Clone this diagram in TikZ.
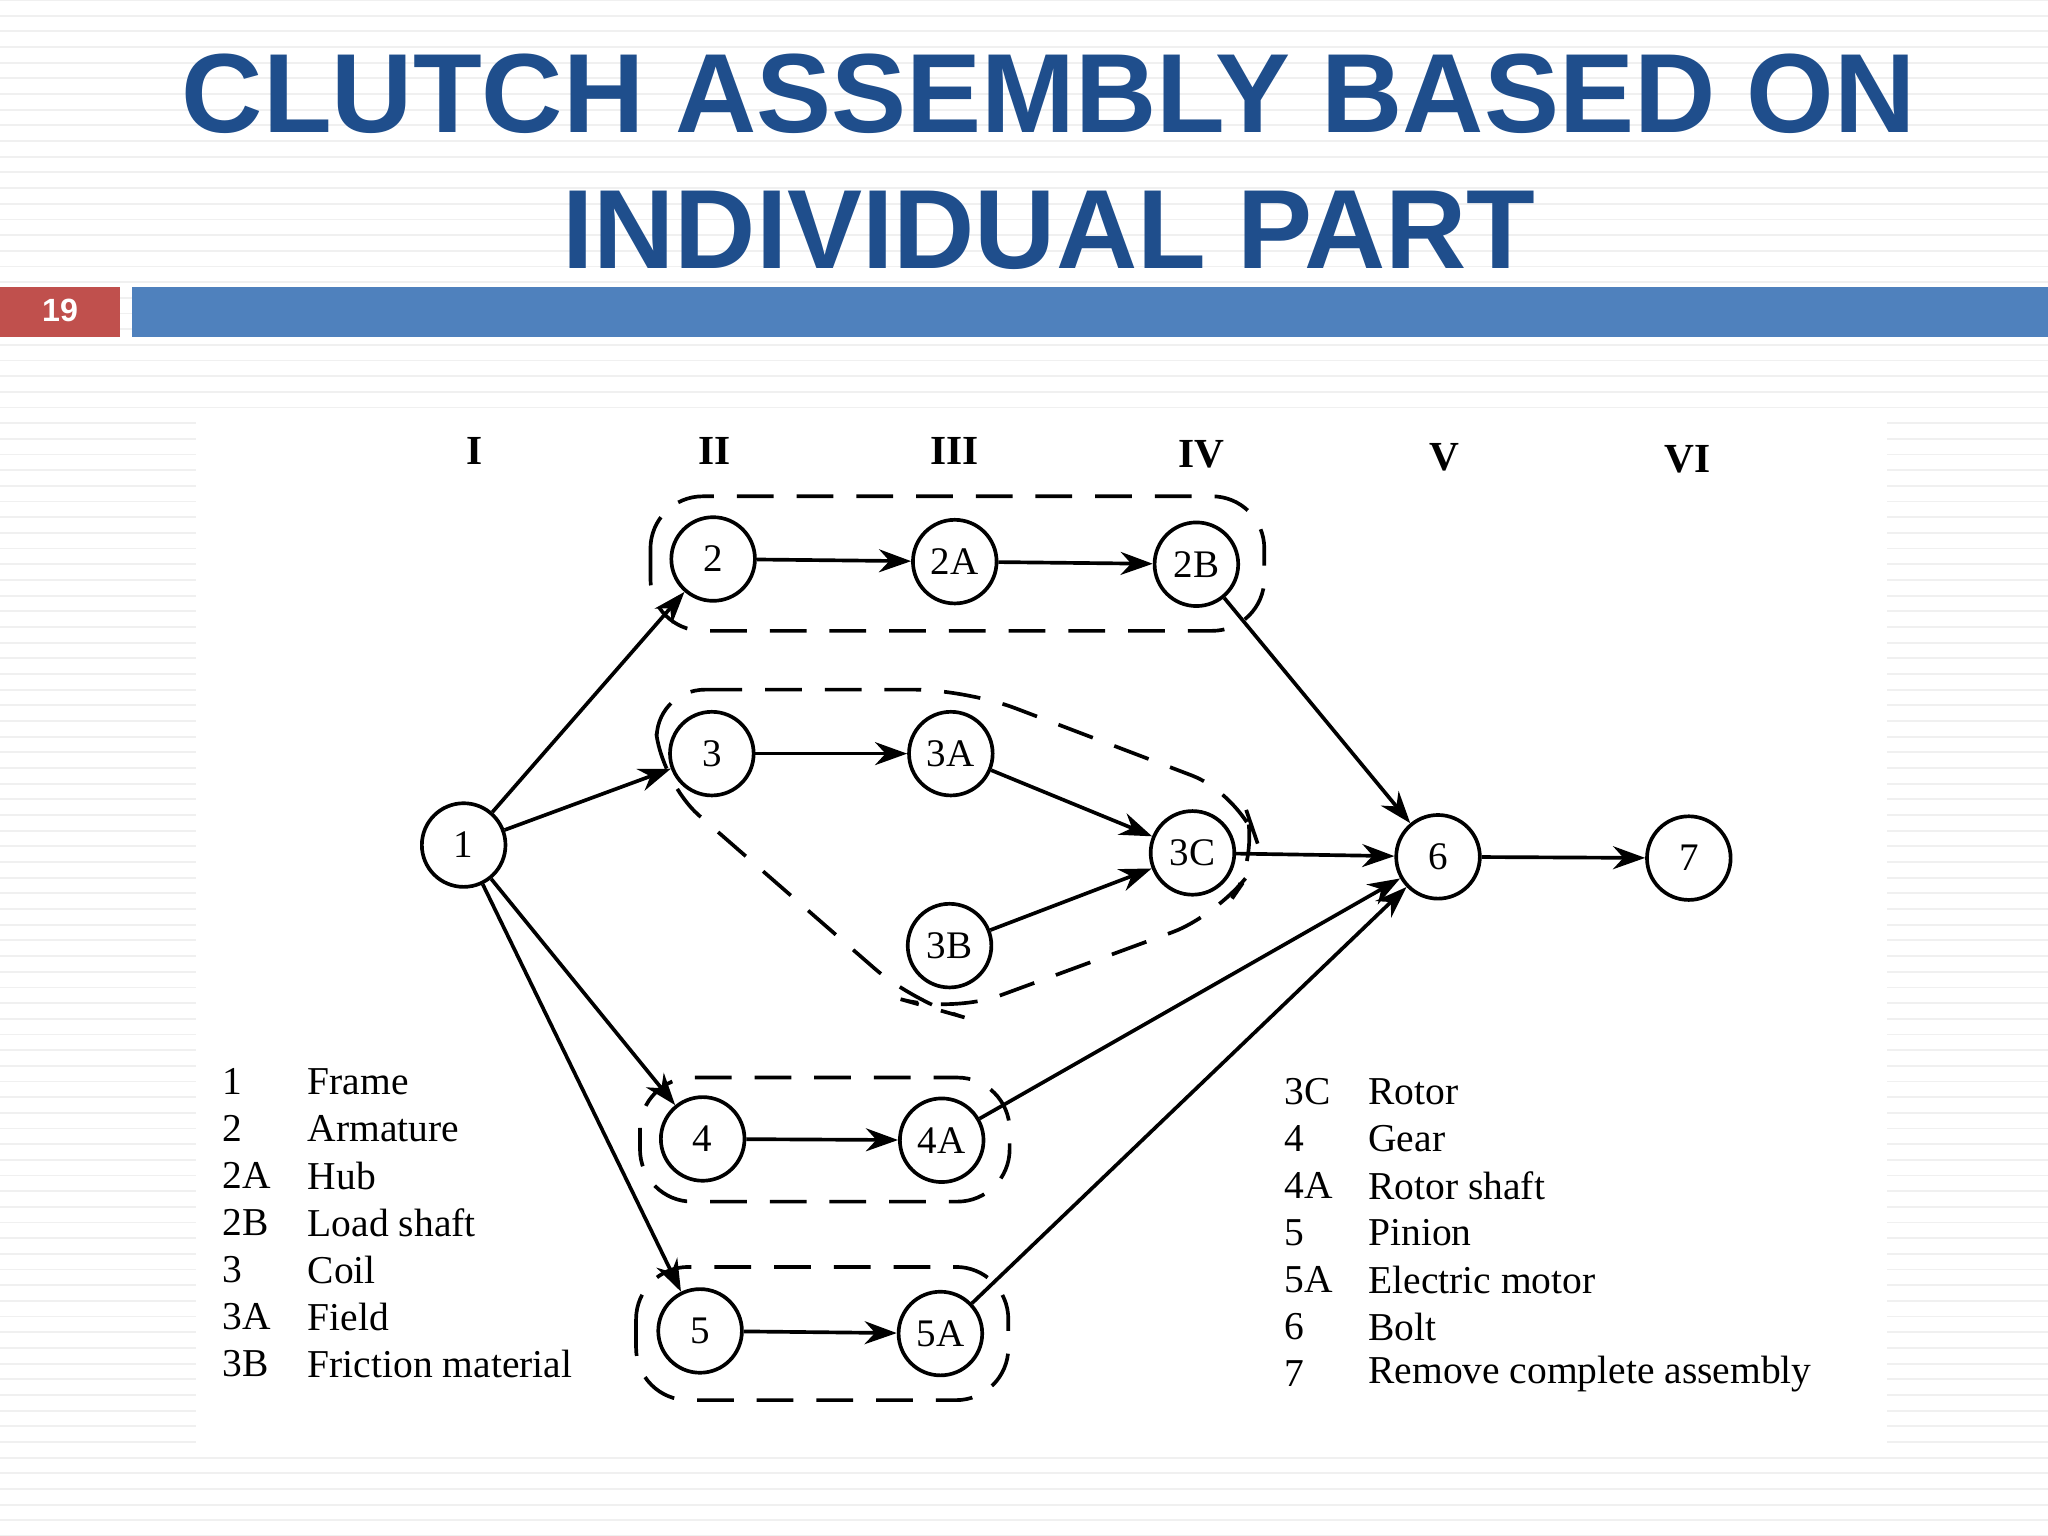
\documentclass[tikz,border=0pt]{standalone}
\usepackage{fontspec}
\setmainfont{Liberation Serif}
\newfontfamily\titlefont{Liberation Sans}
\usetikzlibrary{arrows.meta}
\definecolor{titleblue}{HTML}{1F4E8C}
\definecolor{barblue}{HTML}{4F81BD}
\definecolor{barred}{HTML}{C0504D}
\tikzset{
 part/.style={circle,draw,thick,minimum size=0.64cm,inner sep=0pt,font=\fontsize{8.5}{8.5}\selectfont},
 link/.style={thick,-{Stealth[length=7pt,width=5pt]}},
 grp/.style={dashed,thick,dash pattern=on 8pt off 5pt,rounded corners=0.4cm},
 roman/.style={font=\bfseries\fontsize{9}{9}\selectfont},
 leg/.style={anchor=west,inner sep=0pt,font=\fontsize{8.6}{10}\selectfont},
}
\begin{document}
\begin{tikzpicture}[x=0.01cm,y=-0.01cm]
\useasboundingbox (0,0) rectangle (1568,1176);
\fill[white] (0,0) rectangle (1568,1176);
\foreach \y in {0,12,...,1176} \draw[black!6] (0,\y) -- (1568,\y);
\fill[white] (150,312) rectangle (1445,1110);
% title
\node[font=\titlefont\bfseries\fontsize{24.5}{29.5}\selectfont,text=titleblue,align=center] (title) at (803,124) {CLUTCH ASSEMBLY BASED ON\\INDIVIDUAL PART};
\fill[barred] (0,220) rectangle (92,258);
\node[text=white,font=\titlefont\bfseries\fontsize{7}{7}\selectfont] (pg) at (46,238) {19};
\fill[barblue] (101,220) rectangle (1568,258);
% roman
\node[roman] (r1) at (363,345) {I};
\node[roman] (r2) at (547,345) {II};
\node[roman] (r3) at (731,345) {III};
\node[roman] (r4) at (920,348) {IV};
\node[roman] (r5) at (1106,350) {V};
\node[roman] (r6) at (1292,352) {VI};
% groups
\draw[grp] (498,380) rectangle (968,483);
\draw[grp] (490,825) rectangle (773,920);
\draw[grp] (487,970) rectangle (772,1072);
\draw[grp] (500,528) -- (740,528) -- (950,608) -- (966,655) -- (935,700) -- (728,776) -- (700,768) -- (505,598) -- cycle;
% nodes
\node[part] (n1) at (355,647) {1};
\node[part] (n2) at (546,428) {2};
\node[part] (n2A) at (731,430) {2A};
\node[part] (n2B) at (916,432) {2B};
\node[part] (n3) at (545,577) {3};
\node[part] (n3A) at (728,577) {3A};
\node[part] (n3C) at (913,653) {3C};
\node[part] (n3B) at (727,724) {3B};
\node[part] (n6) at (1101,656) {6};
\node[part] (n7) at (1293,657) {7};
\node[part] (n4) at (538,872) {4};
\node[part] (n4A) at (721,873) {4A};
\node[part] (n5) at (536,1019) {5};
\node[part] (n5A) at (720,1021) {5A};
% links
\draw[link] (n1) -- (n2);
\draw[link] (n1) -- (n3);
\draw[link] (n1) -- (n4);
\draw[link] (n1) -- (n5);
\draw[link] (n2) -- (n2A);
\draw[link] (n2A) -- (n2B);
\draw[link] (n3) -- (n3A);
\draw[link] (n3A) -- (n3C);
\draw[link] (n3B) -- (n3C);
\draw[link] (n4) -- (n4A);
\draw[link] (n5) -- (n5A);
\draw[link] (n2B) -- (n6);
\draw[link] (n3C) -- (n6);
\draw[link] (n4A) -- (n6);
\draw[link] (n5A) -- (n6);
\draw[link] (n6) -- (n7);
% legend left
\foreach \n/\t [count=\i from 0] in {1/Frame,2/Armature,2A/Hub,2B/Load shaft,3/Coil,3A/Field,3B/Friction material}{
 \node[leg] (ln\i) at (170,828+36*\i) {\n};
 \node[leg] (lt\i) at (235,828+36*\i) {\t};
}
\foreach \n/\t [count=\i from 0] in {3C/Rotor,4/Gear,4A/Rotor shaft,5/Pinion,5A/Electric motor,6/Bolt,7/Remove complete assembly}{
 \node[leg] (rn\i) at (983,836+36*\i) {\n};
 \node[leg] (rt\i) at (1047,836+36*\i) {\t};
}
\end{tikzpicture}
\end{document}
